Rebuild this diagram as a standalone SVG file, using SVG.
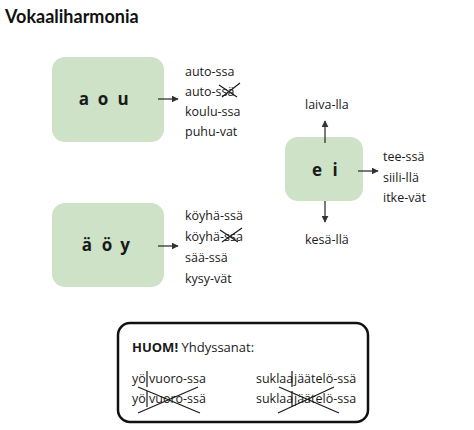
<svg xmlns="http://www.w3.org/2000/svg" width="474" height="430" viewBox="0 0 474 430">
<defs>
<style>
.t{font-family:"Open Sans","Noto Sans","Liberation Sans",sans-serif;font-size:12.5px;fill:#1a1a1a}
.h{font-family:"Open Sans","Noto Sans","Liberation Sans",sans-serif;font-size:17px;font-weight:bold;fill:#1a1a1a;text-anchor:middle}
.box{fill:#cde2c6}
.ln{stroke:#333;stroke-width:1.3;fill:none}
.x{stroke:#1a1a1a;stroke-width:1.2;fill:none}
</style>
<marker id="ah" viewBox="0 0 10 10" refX="9" refY="5" markerWidth="7" markerHeight="7" orient="auto" markerUnits="userSpaceOnUse">
<path d="M0,0 L10,5 L0,10 z" fill="#333"/>
</marker>
</defs>
<rect width="474" height="430" fill="#fff"/>
<text x="5" y="23" style="font-family:Lato,'Noto Sans','Liberation Sans',sans-serif;font-size:18px;font-weight:bold;fill:#111">Vokaaliharmonia</text>

<g id="back">
<rect class="box" x="52" y="57" width="112" height="85" rx="13"/>
<text class="h" x="84" y="105">a</text>
<text class="h" x="103" y="105">o</text>
<text class="h" x="123" y="105">u</text>
<text class="t" x="185" y="76">auto-ssa</text>
<text class="t" x="185" y="96">auto-ssä</text>
<text class="t" x="185" y="116">koulu-ssa</text>
<text class="t" x="185" y="136">puhu-vat</text>
<path class="x" d="M219,85 L237,97 M222,97 L240,83"/>
</g>

<g id="front">
<rect class="box" x="52" y="203" width="112" height="84" rx="13"/>
<text class="h" x="87" y="251">ä</text>
<text class="h" x="107" y="251">ö</text>
<text class="h" x="125" y="251">y</text>
<text class="t" x="185" y="220">köyhä-ssä</text>
<text class="t" x="185" y="241">köyhä-ssa</text>
<text class="t" x="185" y="262">sää-ssä</text>
<text class="t" x="185" y="283">kysy-vät</text>
<path class="x" d="M220,230 L238,242 M222,242 L242,228"/>
</g>

<g id="neutral">
<rect class="box" x="285" y="137" width="78" height="64" rx="13"/>
<text class="h" x="317" y="176">e</text>
<text class="h" x="335" y="176">i</text>
<text class="t" x="305" y="109">laiva-lla</text>
<text class="t" x="305" y="244">kesä-llä</text>
<text class="t" x="383" y="161">tee-ssä</text>
<text class="t" x="383" y="182">siili-llä</text>
<text class="t" x="383" y="202">itke-vät</text>
</g>

<g id="connectors">
<line class="ln" x1="158" y1="99" x2="178" y2="99" marker-end="url(#ah)"/>
<line class="ln" x1="158" y1="246" x2="178" y2="246" marker-end="url(#ah)"/>
<line class="ln" x1="358" y1="171" x2="378" y2="171" marker-end="url(#ah)"/>
<line class="ln" x1="325" y1="143" x2="325" y2="121" marker-end="url(#ah)"/>
<line class="ln" x1="325" y1="201" x2="325" y2="222" marker-end="url(#ah)"/>
</g>

<g id="huom">
<rect x="118" y="323" width="250" height="99" rx="12" fill="#fff" stroke="#111" stroke-width="2.5"/>
<text class="t" x="132" y="352" style="font-size:13px"><tspan font-weight="bold">HUOM!</tspan> Yhdyssanat:</text>
<text class="t" x="132" y="383">yö</text>
<line class="x" x1="147" y1="371" x2="147" y2="387"/>
<text class="t" x="149" y="383">vuoro-ssa</text>
<text class="t" x="132" y="403">yö</text>
<line class="x" x1="147" y1="391" x2="147" y2="407"/>
<text class="t" x="149" y="403">vuoro-ssä</text>
<path class="x" d="M138,387 L200,413 M138,413 L198,387"/>
<text class="t" x="256" y="383">suklaa</text>
<line class="x" x1="292" y1="371" x2="292" y2="387"/>
<text class="t" x="294" y="383">jäätelö-ssä</text>
<text class="t" x="256" y="403">suklaa</text>
<line class="x" x1="292" y1="391" x2="292" y2="407"/>
<text class="t" x="294" y="403">jäätelö-ssa</text>
<path class="x" d="M279,387 L339,413 M278,413 L334,387"/>
</g>
</svg>
